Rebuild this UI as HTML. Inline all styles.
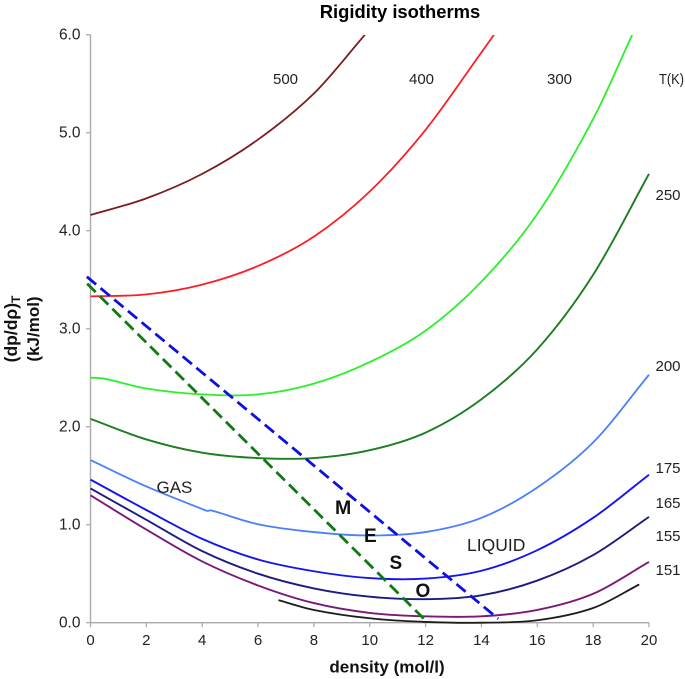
<!DOCTYPE html>
<html>
<head>
<meta charset="utf-8">
<title>Rigidity isotherms</title>
<style>
html,body{margin:0;padding:0;background:#fff;width:685px;height:679px;overflow:hidden}
svg{display:block}
text{font-family:"Liberation Sans",sans-serif;fill:#222}
</style>
</head>
<body>
<svg id="chart" width="685" height="679" viewBox="0 0 685 679" xmlns="http://www.w3.org/2000/svg">
  <defs><clipPath id="plot-clip"><rect x="80" y="35" width="580" height="590"/></clipPath></defs>
  <text x="400" y="18" text-anchor="middle" font-size="18.4" font-weight="bold" style="fill:#000">Rigidity isotherms</text>
  <g id="axes"></g>
  <g id="series" clip-path="url(#plot-clip)"></g>
  <g id="dashes"></g>
  <g id="temps"></g>
  <text x="156.500" y="493" font-size="17">GAS</text>
  <text x="467" y="551" font-size="17.5">LIQUID</text>
  <text x="335" y="514" font-size="19.5" font-weight="bold" style="fill:#111">M</text>
  <text x="364" y="542" font-size="19" font-weight="bold" style="fill:#111">E</text>
  <text x="389.500" y="569" font-size="19" font-weight="bold" style="fill:#111">S</text>
  <text x="415.500" y="597" font-size="19" font-weight="bold" style="fill:#111">O</text>
  <text x="387" y="672.500" text-anchor="middle" font-size="17" font-weight="bold" style="fill:#111">density (mol/l)</text>
  <text transform="translate(17,329) rotate(-90)" text-anchor="middle" font-size="17.5" font-weight="bold" style="fill:#111">(dp/dρ)<tspan font-size="12" dy="3">T</tspan></text>
  <text transform="translate(39,329) rotate(-90)" text-anchor="middle" font-size="17" font-weight="bold" style="fill:#111">(kJ/mol)</text>
</svg>
<script>
var xTickLabels = [0, 2, 4, 6, 8, 10, 12, 14, 16, 18, 20];
var yTickLabels = ['0.0', '1.0', '2.0', '3.0', '4.0', '5.0', '6.0'];

var density500 = [0, 2, 4, 6, 8, 9.83];
var rigidity500 = [4.16, 4.33, 4.58, 4.93, 5.40, 6.0];
var density400 = [0, 2, 4, 6, 8, 10, 12, 14, 14.45];
var rigidity400 = [3.33, 3.35, 3.45, 3.64, 3.94, 4.40, 5.03, 5.82, 6.0];
var density300 = [0, 0.5, 2, 4, 6, 8, 10, 12, 14, 16, 18, 19.4];
var rigidity300 = [2.5, 2.49, 2.39, 2.33, 2.33, 2.44, 2.66, 2.98, 3.48, 4.17, 5.14, 6.0];
var density250 = [0, 2, 4, 6, 8, 10, 12, 14, 16, 18, 20];
var rigidity250 = [2.08, 1.87, 1.735, 1.68, 1.68, 1.76, 1.94, 2.28, 2.79, 3.55, 4.58];
var density200 = [0, 2, 4, 4.2, 4.3, 6, 8, 10, 12, 14, 16, 18, 20];
var rigidity200 = [1.66, 1.39, 1.16, 1.14, 1.147, 1.005, 0.925, 0.89, 0.925, 1.07, 1.38, 1.84, 2.53];
var density175 = [0, 2, 4, 6, 8, 10, 12, 14, 16, 18, 20];
var rigidity175 = [1.46, 1.15, 0.855, 0.645, 0.525, 0.455, 0.45, 0.53, 0.74, 1.07, 1.51];
var density165 = [0, 2, 4, 6, 8, 10, 12, 14, 16, 18, 20];
var rigidity165 = [1.37, 1.05, 0.73, 0.50, 0.35, 0.265, 0.24, 0.28, 0.43, 0.69, 1.08];
var density155 = [0, 2, 4, 6, 8, 10, 12, 14, 16, 18, 20];
var rigidity155 = [1.30, 0.95, 0.625, 0.38, 0.20, 0.10, 0.065, 0.065, 0.13, 0.295, 0.62];
var density151 = [6.73, 8, 10, 12, 14, 16, 18, 19.65];
var rigidity151 = [0.23, 0.13, 0.045, 0.008, 0, 0.025, 0.15, 0.39];

var dashDensityBlue = [-0.13, 14.6];
var dashRigidityBlue = [3.53, 0.04];
var dashDensityGreen = [-0.12, 12.08];
var dashRigidityGreen = [3.46, 0];

var X0 = 90.5, X1 = 649, Y0 = 622.7, Y1 = 34.7;
function xScale(v) { return X0 + (X1 - X0) * v / 20; }
function yScale(v) { return Y0 + (Y1 - Y0) * v / 6; }
var NS = 'http://www.w3.org/2000/svg';
function mk(tag, parent) {
  var e = document.createElementNS(NS, tag);
  parent.appendChild(e);
  return e;
}
function curvePath(xs, ys) {
  var p = xs.map(function (v, i) { return [xScale(v), yScale(ys[i])]; });
  var d = 'M' + p[0][0].toFixed(2) + ' ' + p[0][1].toFixed(2);
  for (var i = 0; i < p.length - 1; i++) {
    var a = p[Math.max(i - 1, 0)], b = p[i], c = p[i + 1], e = p[Math.min(i + 2, p.length - 1)];
    var span = c[0] - b[0];
    var m1 = (c[1] - a[1]) / ((c[0] - a[0]) || 1);
    var m2 = (e[1] - b[1]) / ((e[0] - b[0]) || 1);
    d += 'C' + (b[0] + span / 3).toFixed(2) + ' ' + (b[1] + m1 * span / 3).toFixed(2) + ' ' +
      (c[0] - span / 3).toFixed(2) + ' ' + (c[1] - m2 * span / 3).toFixed(2) + ' ' +
      c[0].toFixed(2) + ' ' + c[1].toFixed(2);
  }
  return d;
}

var axes = document.getElementById('axes');
var yLine = mk('line', axes);


yLine.setAttribute('x1', X0); yLine.setAttribute('x2', X0);
yLine.setAttribute('y1', Y1); yLine.setAttribute('y2', Y0);
yLine.setAttribute('stroke', '#a9a9a9'); yLine.setAttribute('stroke-width', '1.4');
var xLine = mk('line', axes);


xLine.setAttribute('x1', X0); xLine.setAttribute('x2', X1);
xLine.setAttribute('y1', Y0); xLine.setAttribute('y2', Y0);
xLine.setAttribute('stroke', '#a9a9a9'); xLine.setAttribute('stroke-width', '1.4');

xTickLabels.forEach(function (v) {
  var t = mk('line', axes);
  
  
  t.setAttribute('x1', xScale(v)); t.setAttribute('x2', xScale(v));
  t.setAttribute('y1', Y0); t.setAttribute('y2', Y0 + 4.5);
  t.setAttribute('stroke', '#a9a9a9'); t.setAttribute('stroke-width', '1.2');
  var l = mk('text', axes);
  
  
  l.setAttribute('x', xScale(v)); l.setAttribute('y', 645);
  l.setAttribute('text-anchor', 'middle'); l.setAttribute('font-size', '15');
  l.textContent = v;
});
yTickLabels.forEach(function (v) {
  var n = parseFloat(v);
  var t = mk('line', axes);
  
  
  t.setAttribute('x1', X0 - 4.5); t.setAttribute('x2', X0);
  t.setAttribute('y1', yScale(n)); t.setAttribute('y2', yScale(n));
  t.setAttribute('stroke', '#a9a9a9'); t.setAttribute('stroke-width', '1.2');
  var l = mk('text', axes);
  
  
  l.setAttribute('x', 80.5); l.setAttribute('y', yScale(n) + 5);
  l.setAttribute('text-anchor', 'end'); l.setAttribute('font-size', '15.5');
  l.textContent = v;
});

var seriesGroup = document.getElementById('series');
function drawSeries(name, xs, ys, color, width) {
  var p = mk('path', seriesGroup);
  
  
  p.setAttribute('d', curvePath(xs, ys));
  p.setAttribute('fill', 'none');
  p.setAttribute('stroke', color);
  p.setAttribute('stroke-width', width);
}
drawSeries('isotherm-500k', density500, rigidity500, '#7b1c1f', 1.8);
drawSeries('isotherm-400k', density400, rigidity400, '#fb1f24', 1.8);
drawSeries('isotherm-300k', density300, rigidity300, '#2cf02c', 1.8);
drawSeries('isotherm-250k', density250, rigidity250, '#1d7d1f', 1.9);
drawSeries('isotherm-200k', density200, rigidity200, '#4a80fb', 1.8);
drawSeries('isotherm-175k', density175, rigidity175, '#1414f0', 1.9);
drawSeries('isotherm-165k', density165, rigidity165, '#1c1c80', 1.9);
drawSeries('isotherm-155k', density155, rigidity155, '#7a1a78', 1.9);
drawSeries('isotherm-151k', density151, rigidity151, '#1c1c1c', 1.8);

var dashGroup = document.getElementById('dashes');
function drawDash(name, xs, ys, color) {
  var l = mk('line', dashGroup);
  
  
  l.setAttribute('x1', xScale(xs[0])); l.setAttribute('x2', xScale(xs[1]));
  l.setAttribute('y1', yScale(ys[0])); l.setAttribute('y2', yScale(ys[1]));
  l.setAttribute('stroke', color);
  l.setAttribute('stroke-width', '2.8');
  l.setAttribute('stroke-dasharray', '12 5.8');
}
drawDash('dashed-line-blue', dashDensityBlue, dashRigidityBlue, '#0f0fe0');
drawDash('dashed-line-green', dashDensityGreen, dashRigidityGreen, '#0f7a12');

var tempText = ['500', '400', '300', 'T(K)', '250', '200', '175', '165', '155', '151'];
var tempGroup = document.getElementById('temps');
var tempLeft = [273, 409, 547, 659, 655.5, 655.5, 655.5, 655.5, 655.5, 655.5];
var tempBase = [84, 84, 84, 84, 200, 371, 473, 508, 541, 575];
tempText.forEach(function (s, i) {
  var t = mk('text', tempGroup);
  
  
  t.setAttribute('x', tempLeft[i]);
  t.setAttribute('y', tempBase[i]);
  t.setAttribute('font-size', '15');
  if (s === 'T(K)') {
    t.setAttribute('textLength', '25');
    t.setAttribute('lengthAdjust', 'spacingAndGlyphs');
  }
  t.textContent = s;
});
</script>
</body>
</html>
